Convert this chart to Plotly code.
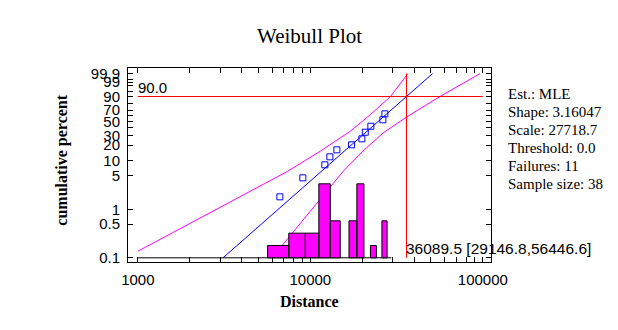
import numpy as np
import plotly.graph_objects as go

# ---------------- data ----------------
fail_distance = [6656, 9045, 12137, 12974, 14244, 17337, 19893, 20816, 22427, 26326, 27038]
fail_percent = [1.85, 4.54, 8.31, 11.95, 16.32, 20.27, 26.07, 33.95, 42.49, 52.86, 63.3]

fit_distance = [3117, 51097]
fit_percent = [0.1, 99.9]

upper_distance = [1000, 4501, 7346, 11460, 17100, 22336, 29146.8, 36750]
upper_percent = [0.137, 2.44, 6.10, 15.5, 35.5, 62.1, 90.0, 99.9]

lower_distance = [5990, 6928, 11202, 15641, 20340, 26570, 36120, 56446.6, 96340]
lower_percent = [0.1, 0.189, 1.55, 6.39, 15.8, 33.5, 57.7, 90.0, 99.9]

hist_edges = [5650, 7500, 9350, 11200, 13050, 14900, 16750, 18600, 20450, 22300, 24150, 26000, 27850]
hist_counts = [1, 2, 2, 6, 3, 0, 3, 6, 0, 1, 0, 3]
hist_axis_end = 29500

target_percent = 90.0
target_distance = 36089.5
target_label = "36089.5 [29146.8,56446.6]"

x_major = [1000, 10000, 100000]
x_major_labels = ["1000", "10000", "100000"]
y_ticks = [0.1, 0.5, 1, 5, 10, 20, 30, 40, 50, 60, 70, 80, 90, 95, 98, 99, 99.5, 99.9]
y_labeled = {0.1: "0.1", 0.5: "0.5", 1: "1", 5: "5", 10: "10", 20: "20", 30: "30",
             50: "50", 70: "70", 90: "90", 99: "99", 99.9: "99.9"}

stats_lines = ["Est.: MLE", "Shape: 3.16047", "Scale: 27718.7", "Threshold: 0.0",
               "Failures: 11", "Sample size: 38"]

# ---------------- helpers ----------------
def wscale(p):
    p = np.asarray(p, dtype=float) / 100.0
    return np.log(-np.log(1.0 - p))

MAG = "#FF00FF"
BLUE = "#0000FF"
RED = "#FF0000"
SERIF = "Liberation Serif, Times New Roman, serif"
SANS = "Liberation Sans, Arial, sans-serif"

base_w = float(wscale(0.1))
count_unit = 0.5917  # histogram height per count (in axis units)

# minor x ticks
x_tickvals, x_ticktext = [], []
for dec in [1000, 10000]:
    for m in range(1, 10):
        v = dec * m
        x_tickvals.append(v)
        x_ticktext.append(x_major_labels[x_major.index(v)] if v in x_major else "")
x_tickvals.append(100000)
x_ticktext.append("100000")

fig = go.Figure()

# confidence bounds
fig.add_trace(go.Scatter(x=upper_distance, y=wscale(upper_percent), mode="lines",
                         line=dict(color=MAG, width=1), hoverinfo="skip"))
fig.add_trace(go.Scatter(x=lower_distance, y=wscale(lower_percent), mode="lines",
                         line=dict(color=MAG, width=1), hoverinfo="skip"))
# fitted line
fig.add_trace(go.Scatter(x=fit_distance, y=wscale(fit_percent), mode="lines",
                         line=dict(color=BLUE, width=1), hoverinfo="skip"))
# reference lines
fig.add_trace(go.Scatter(x=[x_major[0], x_major[-1]], y=wscale([target_percent] * 2), mode="lines",
                         line=dict(color=RED, width=1), hoverinfo="skip"))
fig.add_trace(go.Scatter(x=[target_distance] * 2, y=wscale([0.1, 99.9]), mode="lines",
                         line=dict(color=RED, width=1), hoverinfo="skip"))
# histogram baseline
fig.add_trace(go.Scatter(x=[x_major[0], hist_axis_end], y=[base_w, base_w], mode="lines",
                         line=dict(color="black", width=1), hoverinfo="skip"))
# histogram bars
hx, hy = [], []
for i, c in enumerate(hist_counts):
    if c <= 0:
        continue
    l, r = hist_edges[i], hist_edges[i + 1]
    top = base_w + c * count_unit
    hx += [l, l, r, r, l, None]
    hy += [base_w, top, top, base_w, base_w, None]
fig.add_trace(go.Scatter(x=hx, y=hy, mode="lines", fill="toself", fillcolor=MAG,
                         line=dict(color="black", width=1), hoverinfo="skip"))
# failure points
fig.add_trace(go.Scatter(x=fail_distance, y=wscale(fail_percent), mode="markers",
                         marker=dict(symbol="square-open", size=6, color=BLUE,
                                     line=dict(color=BLUE, width=1)), hoverinfo="skip"))

L, R, T, B = 128, 127, 68, 68
W, H = 618, 330
pw, ph = W - L - R, H - T - B

annotations = []
annotations.append(dict(text="Weibull Plot", xref="paper", yref="paper", x=0.5,
                        y=(H - B - 36) / ph, xanchor="center", yanchor="middle",
                        showarrow=False, font=dict(family=SERIF, size=21, color="black")))
annotations.append(dict(text="<b>Distance</b>", xref="paper", yref="paper", x=0.5,
                        y=(H - B - 301) / ph, xanchor="center", yanchor="middle",
                        showarrow=False, font=dict(family=SERIF, size=16, color="black")))
annotations.append(dict(text="<b>cumulative percent</b>", xref="paper", yref="paper",
                        x=(61.7 - L) / pw, y=(H - B - 160) / ph, textangle=-90,
                        xanchor="center", yanchor="middle", showarrow=False,
                        font=dict(family=SERIF, size=16, color="black")))
annotations.append(dict(text="%.1f" % target_percent, x=np.log10(x_major[0]),
                        y=float(wscale(target_percent)), xanchor="left", yanchor="middle",
                        xshift=-2, yshift=9, showarrow=False,
                        font=dict(family=SANS, size=15, color="black")))
annotations.append(dict(text=target_label, x=np.log10(target_distance), y=base_w,
                        xanchor="left", yanchor="middle", xshift=-2, yshift=9,
                        showarrow=False, font=dict(family=SANS, size=15.5, color="black")))
for i, s in enumerate(stats_lines):
    cy = 94 + i * 17.9
    annotations.append(dict(text=s, xref="paper", yref="paper", x=(508 - L) / pw,
                            y=(H - B - cy) / ph, xanchor="left", yanchor="middle",
                            xshift=-2, showarrow=False,
                            font=dict(family=SERIF, size=15, color="black")))

fig.update_layout(
    width=W, height=H, margin=dict(l=L, r=R, t=T, b=B, pad=0),
    paper_bgcolor="white", plot_bgcolor="white", showlegend=False,
    annotations=annotations,
    xaxis=dict(type="log", range=[2.9429, 5.0473], showline=True, linecolor="black",
               linewidth=1, mirror="ticks", ticks="inside", ticklen=5, tickcolor="black",
               tickmode="array", tickvals=x_tickvals, ticktext=x_ticktext,
               showgrid=False, zeroline=False,
               tickfont=dict(family=SANS, size=15, color="black"), ticklabelstandoff=4),
    yaxis=dict(range=[-7.1085, 2.202], showline=True, linecolor="black", linewidth=1,
               mirror="ticks", ticks="inside", ticklen=5, tickcolor="black",
               tickmode="array", tickvals=[float(v) for v in wscale(y_ticks)],
               ticktext=[y_labeled.get(v, "") for v in y_ticks],
               showgrid=False, zeroline=False,
               tickfont=dict(family=SANS, size=15, color="black"), ticklabelstandoff=4),
)

fig.write_html("out.html")
